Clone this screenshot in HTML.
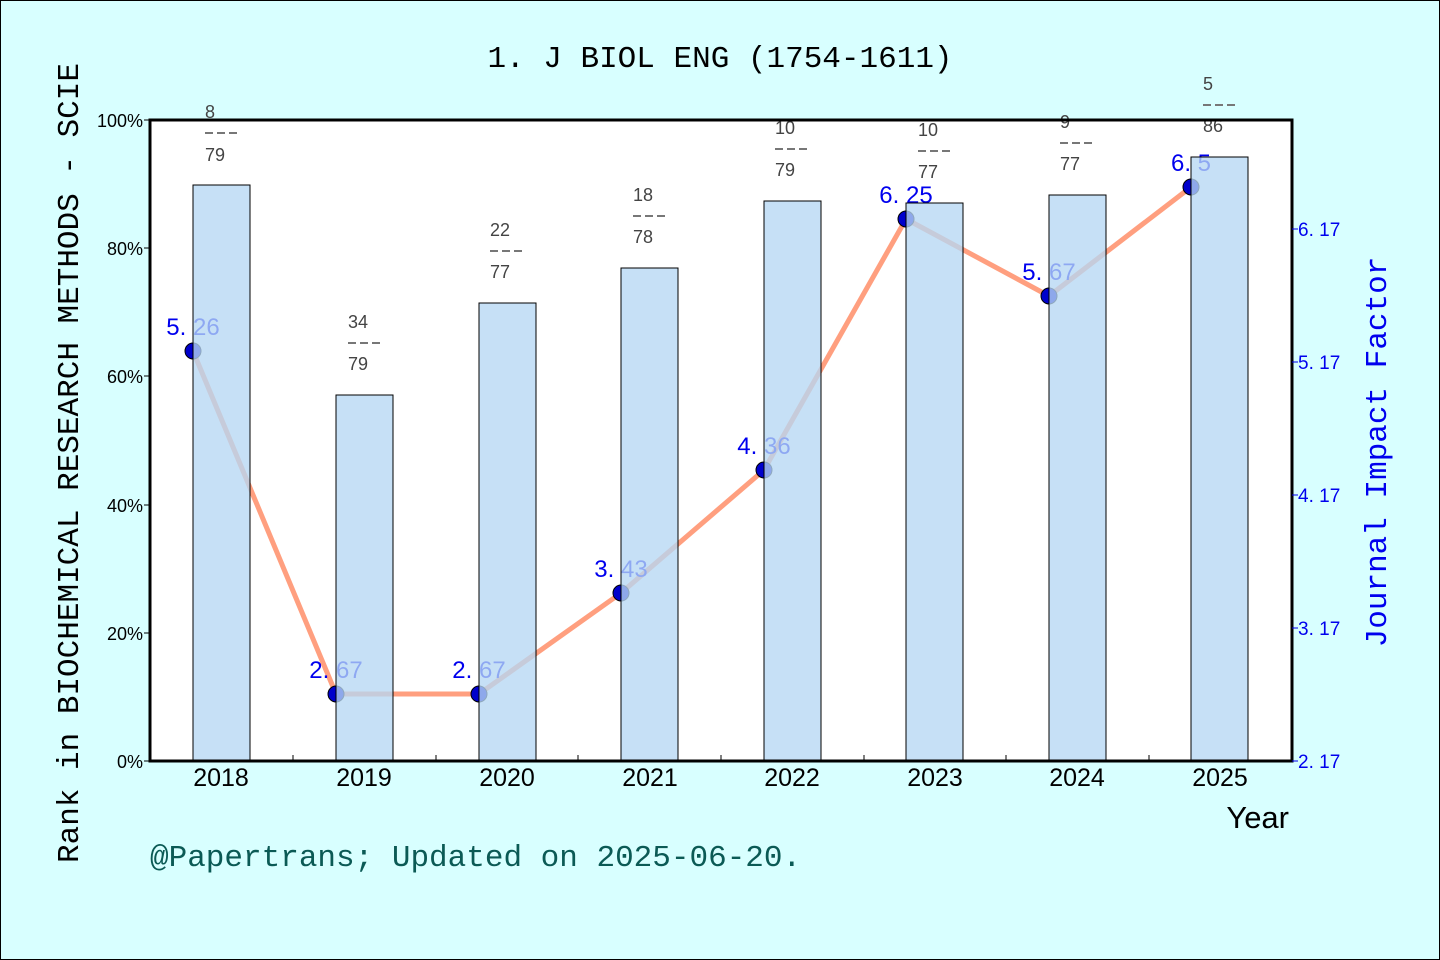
<!DOCTYPE html>
<html><head><meta charset="utf-8"><style>
html,body{margin:0;padding:0;background:#d8ffff;}
svg{display:block;font-family:"Liberation Sans","WenQuanYi Zen Hei",sans-serif;}
</style></head><body>
<svg width="1440" height="960" viewBox="0 0 1440 960" xmlns="http://www.w3.org/2000/svg">
<rect x="0.5" y="0.5" width="1439" height="959" fill="#d8ffff" stroke="#000" stroke-width="1"/>
<rect x="150" y="120" width="1142" height="641" fill="#fff"/>
<text x="720" y="67" font-size="31" text-anchor="middle" fill="#000" font-family="Liberation Mono, monospace">1. J BIOL ENG (1754-1611)</text>
<polyline points="193,351 336,694 479,694 621,593 764,470 906,219 1049,296 1191,187" fill="none" stroke="#ff9f7f" stroke-width="5" stroke-linejoin="round"/>
<g fill="#0000cc" stroke="#000" stroke-width="1">
<circle cx="193" cy="351" r="8"/><circle cx="336" cy="694" r="8"/><circle cx="479" cy="694" r="8"/><circle cx="621" cy="593" r="8"/><circle cx="764" cy="470" r="8"/><circle cx="906" cy="219" r="8"/><circle cx="1049" cy="296" r="8"/><circle cx="1191" cy="187" r="8"/>
</g>
<g font-size="24" fill="#0000ee" text-anchor="middle">
<text x="193" y="335">5. 26</text><text x="336" y="678">2. 67</text><text x="479" y="678">2. 67</text><text x="621" y="577">3. 43</text><text x="764" y="454">4. 36</text><text x="906" y="203">6. 25</text><text x="1049" y="280">5. 67</text><text x="1191" y="171">6. 5</text>
</g>
<g fill="rgba(182,215,244,0.78)" stroke="#000" stroke-width="1">
<rect x="193" y="185" width="57" height="576"/>
<rect x="336" y="395" width="57" height="366"/>
<rect x="479" y="303" width="57" height="458"/>
<rect x="621" y="268" width="57" height="493"/>
<rect x="764" y="201" width="57" height="560"/>
<rect x="906" y="203" width="57" height="558"/>
<rect x="1049" y="195" width="57" height="566"/>
<rect x="1191" y="157" width="57" height="604"/>
</g>
<g font-size="18" fill="#444">
<text x="205" y="118">8</text><text x="205" y="161">79</text>
<text x="348" y="328">34</text><text x="348" y="370">79</text>
<text x="490" y="236">22</text><text x="490" y="278">77</text>
<text x="633" y="201">18</text><text x="633" y="243">78</text>
<text x="775" y="134">10</text><text x="775" y="176">79</text>
<text x="918" y="136">10</text><text x="918" y="178">77</text>
<text x="1060" y="128">9</text><text x="1060" y="170">77</text>
<text x="1203" y="90">5</text><text x="1203" y="132">86</text>
</g>
<g stroke="#777" stroke-width="2" stroke-dasharray="8,4">
<line x1="205" y1="133" x2="237" y2="133"/>
<line x1="348" y1="343" x2="380" y2="343"/>
<line x1="490" y1="251" x2="522" y2="251"/>
<line x1="633" y1="216" x2="665" y2="216"/>
<line x1="775" y1="149" x2="807" y2="149"/>
<line x1="918" y1="151" x2="950" y2="151"/>
<line x1="1060" y1="143" x2="1092" y2="143"/>
<line x1="1203" y1="105" x2="1235" y2="105"/>
</g>
<rect x="150" y="120" width="1142" height="641" fill="none" stroke="#000" stroke-width="3"/>
<g stroke="#000" stroke-width="1">
<line x1="144" y1="120" x2="150" y2="120"/><line x1="144" y1="248" x2="150" y2="248"/><line x1="144" y1="376" x2="150" y2="376"/><line x1="144" y1="505" x2="150" y2="505"/><line x1="144" y1="633" x2="150" y2="633"/><line x1="144" y1="761" x2="150" y2="761"/>
<line x1="293" y1="755" x2="293" y2="761"/><line x1="436" y1="755" x2="436" y2="761"/><line x1="578" y1="755" x2="578" y2="761"/><line x1="721" y1="755" x2="721" y2="761"/><line x1="864" y1="755" x2="864" y2="761"/><line x1="1006" y1="755" x2="1006" y2="761"/><line x1="1149" y1="755" x2="1149" y2="761"/>
</g>
<g stroke="#0000ee" stroke-width="1">
<line x1="1292" y1="229" x2="1298" y2="229"/><line x1="1292" y1="362" x2="1298" y2="362"/><line x1="1292" y1="495" x2="1298" y2="495"/><line x1="1292" y1="628" x2="1298" y2="628"/><line x1="1292" y1="761" x2="1298" y2="761"/>
</g>
<g font-size="18" fill="#000" text-anchor="end">
<text x="143" y="127">100%</text><text x="143" y="255">80%</text><text x="143" y="383">60%</text><text x="143" y="512">40%</text><text x="143" y="640">20%</text><text x="143" y="768">0%</text>
</g>
<g font-size="19" fill="#0000ee">
<text x="1298" y="236">6. 17</text><text x="1298" y="369">5. 17</text><text x="1298" y="502">4. 17</text><text x="1298" y="635">3. 17</text><text x="1298" y="768">2. 17</text>
</g>
<g font-size="25" fill="#000" text-anchor="middle">
<text x="221" y="786">2018</text><text x="364" y="786">2019</text><text x="507" y="786">2020</text><text x="650" y="786">2021</text><text x="792" y="786">2022</text><text x="935" y="786">2023</text><text x="1077" y="786">2024</text><text x="1220" y="786">2025</text>
</g>
<text x="1289" y="828" font-size="31" text-anchor="end" fill="#000">Year</text>
<text transform="translate(78,463) rotate(-90)" font-size="31" text-anchor="middle" fill="#000" font-family="Liberation Mono, monospace">Rank in BIOCHEMICAL RESEARCH METHODS - SCIE</text>
<text transform="translate(1386,452) rotate(-90)" font-size="31" text-anchor="middle" fill="#0000ee" font-family="Liberation Mono, monospace">Journal Impact Factor</text>
<text x="150" y="866" font-size="31" fill="#0b5a55" font-family="Liberation Mono, monospace">@Papertrans; Updated on 2025-06-20.</text>
</svg>
</body></html>
